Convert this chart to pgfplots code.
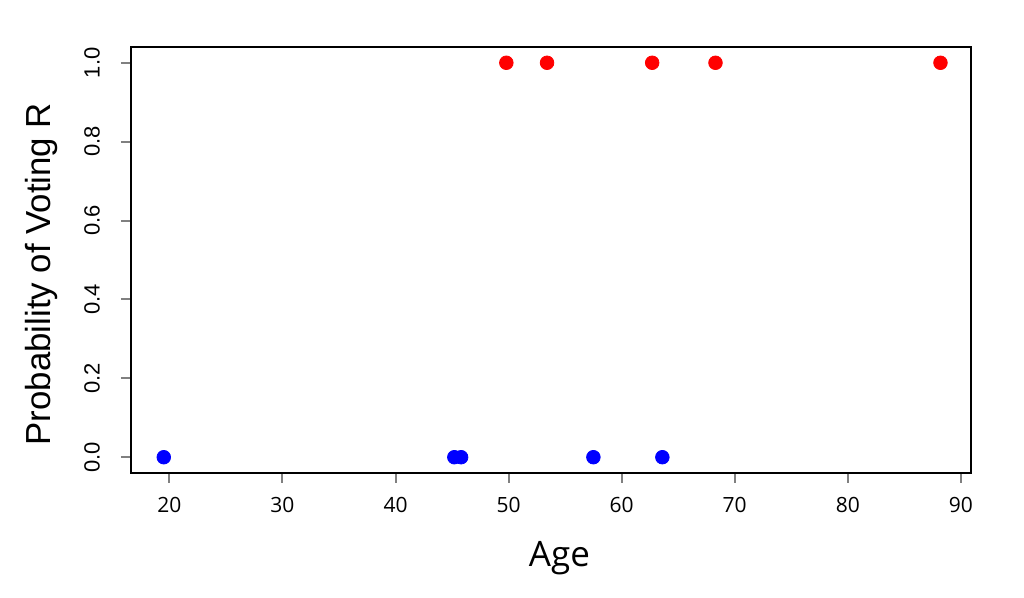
\documentclass[border=0pt]{standalone}
\usepackage{pgfplots}
\pgfplotsset{compat=1.18}
\usepackage{fontspec}
\setmainfont{Liberation Sans}
\newfontfamily\agefont{Open Sans}
\begin{document}
\begin{tikzpicture}
\useasboundingbox (-65.5pt,-62.5pt) rectangle (446.5pt,236.5pt);
\begin{axis}[
  at={(0,0)}, anchor=south west,
  scale only axis,
  width=420pt, height=213pt,
  xmin=16.6, xmax=90.9,
  ymin=-0.04, ymax=1.04,
  axis line style={black, line width=1.4pt},
  tick align=outside,
  tick pos=left,
  major tick length=5pt,
  every tick/.style={gray, line width=1pt},
  xtick={20,30,...,90},
  ytick={0,0.2,...,1.0},
  yticklabels={0.0,0.2,0.4,0.6,0.8,1.0},
  xticklabel style={font=\agefont\fontsize{10.5}{12}\selectfont, yshift=-3.5pt},
  yticklabel style={font=\fontsize{11}{13}\selectfont, rotate=90, anchor=south},
  yticklabel shift=7pt,
  /pgf/number format/assume math mode=true,
  xlabel={Age},
  ylabel={Probability of Voting R},
  xlabel style={font=\agefont\fontsize{17.5}{20}\selectfont, at={(axis description cs:0.51,-0.2)}, anchor=center},
  ylabel style={font=\fontsize{17.4}{20}\selectfont, at={(axis description cs:-0.106,0.467)}, anchor=center},
]
\addplot [only marks, mark=*, mark size=3.4pt, draw=blue, fill=blue]
table {%
19.5 0
45.2 0
45.8 0
57.5 0
63.6 0
};
\addplot [only marks, mark=*, mark size=3.4pt, draw=red, fill=red]
table {%
49.8 1
53.4 1
62.7 1
68.3 1
88.2 1
};
\end{axis}
\end{tikzpicture}
\end{document}
